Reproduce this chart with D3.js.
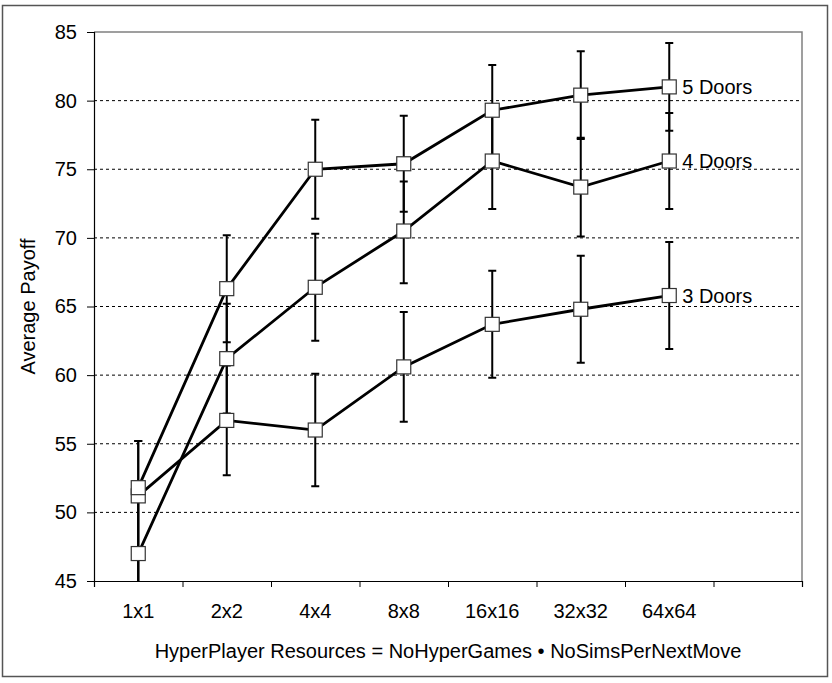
<!DOCTYPE html>
<html>
<head>
<meta charset="utf-8">
<script src="https://cdn.jsdelivr.net/npm/d3@7"></script>
<style>
  body { margin: 0; background: #fff; }
  svg text { font-family: Arial, "Liberation Sans", sans-serif; fill: #000; }
</style>
</head>
<body>
<svg id="chart"></svg>
<script>
// Data
const categories = ['1x1', '2x2', '4x4', '8x8', '16x16', '32x32', '64x64'];
const seriesNames = ['3 Doors', '4 Doors', '5 Doors'];
const doors3 = [51.2, 56.7, 56.0, 60.6, 63.7, 64.8, 65.8];
const doors4 = [47.0, 61.2, 66.4, 70.5, 75.6, 73.7, 75.6];
const doors5 = [51.8, 66.3, 75.0, 75.4, 79.3, 80.4, 81.0];
// error bar lengths above / below each point
const err3Up = [4.0, 4.0, 4.1, 4.0, 3.9, 3.9, 3.9];
const err3Down = [7.0, 4.0, 4.1, 4.0, 3.9, 3.9, 3.9];
const err4Up = [4.0, 4.0, 3.9, 3.6, 3.5, 3.6, 3.5];
const err4Down = [7.0, 4.0, 3.9, 3.8, 3.5, 3.6, 3.5];
const err5Up = [3.4, 3.9, 3.6, 3.5, 3.3, 3.2, 3.2];
const err5Down = [7.0, 3.9, 3.6, 3.5, 3.3, 3.2, 3.2];
const yTicks = [45, 50, 55, 60, 65, 70, 75, 80, 85];

function drawChart() {
    const width = 832;
    const height = 683;
    const margin = { top: 32, right: 30, bottom: 102, left: 94 };
    const nSlots = categories.length + 1; // one empty slot at the right
    const fontSize = '20px';

    const svg = d3.select('#chart')
        .attr('width', width)
        .attr('height', height);

    // outer frame
    svg.append('rect')
        .attr('x', 2.5).attr('y', 5.5)
        .attr('width', 825).attr('height', 671)
        .attr('fill', '#fff')
        .attr('stroke', '#555')
        .attr('stroke-width', 1.5);

    const x = d3.scaleLinear()
        .domain([0, nSlots])
        .range([margin.left, width - margin.right]);

    const y = d3.scaleLinear()
        .domain([45, 85])
        .range([height - margin.bottom, margin.top]);

    // dashed gridlines
    svg.append('g')
        .selectAll('line')
        .data(yTicks.filter(t => t > 45 && t < 85))
        .join('line')
        .attr('x1', x(0)).attr('x2', x(nSlots))
        .attr('y1', d => y(d)).attr('y2', d => y(d))
        .attr('stroke', '#000')
        .attr('stroke-width', 1)
        .attr('stroke-dasharray', '3,3');

    // top and right border (grey)
    svg.append('path')
        .attr('d', `M${x(0)},${y(85)}H${x(nSlots)}V${y(45)}`)
        .attr('fill', 'none')
        .attr('stroke', '#808080')
        .attr('stroke-width', 1.5);

    // y axis
    const yAxis = svg.append('g')
        .attr('transform', `translate(${x(0)},0)`)
        .call(d3.axisLeft(y).tickValues(yTicks).tickSize(7).tickPadding(10));
    yAxis.select('.domain').attr('stroke', '#000').attr('stroke-width', 1.2);
    yAxis.selectAll('.tick line').attr('stroke', '#000');
    yAxis.selectAll('.tick text').style('font-size', fontSize);

    // x axis: tick marks at slot boundaries, labels at slot centres
    const xAxis = svg.append('g')
        .attr('transform', `translate(0,${y(45)})`)
        .call(d3.axisBottom(x).tickValues(d3.range(0, nSlots + 1)).tickSize(6).tickFormat(''));
    xAxis.select('.domain').attr('stroke', '#000').attr('stroke-width', 1.2);
    xAxis.selectAll('.tick line').attr('stroke', '#000');

    svg.append('g')
        .selectAll('text')
        .data(categories)
        .join('text')
        .attr('x', (d, i) => x(i + 0.5))
        .attr('y', y(45) + 37)
        .attr('text-anchor', 'middle')
        .style('font-size', fontSize)
        .text(d => d);

    // axis titles
    svg.append('text')
        .attr('x', (x(0) + x(nSlots)) / 2)
        .attr('y', 658)
        .attr('text-anchor', 'middle')
        .style('font-size', fontSize)
        .text('HyperPlayer Resources = NoHyperGames \u2022 NoSimsPerNextMove');

    svg.append('text')
        .attr('transform', `translate(35,${(y(45) + y(85)) / 2}) rotate(-90)`)
        .attr('text-anchor', 'middle')
        .style('font-size', fontSize)
        .text('Average Payoff');

    const series = [
        { name: seriesNames[0], values: doors3, up: err3Up, down: err3Down },
        { name: seriesNames[1], values: doors4, up: err4Up, down: err4Down },
        { name: seriesNames[2], values: doors5, up: err5Up, down: err5Down }
    ];

    svg.append('clipPath').attr('id', 'plot-clip')
        .append('rect')
        .attr('x', x(0)).attr('y', y(85))
        .attr('width', x(nSlots) - x(0)).attr('height', y(45) - y(85));

    const line = d3.line()
        .x((d, i) => x(i + 0.5))
        .y(d => y(d));

    // lines
    svg.append('g')
        .selectAll('path')
        .data(series)
        .join('path')
        .attr('fill', 'none')
        .attr('stroke', '#000')
        .attr('stroke-width', 2.8)
        .attr('d', s => line(s.values));

    // error bars (clipped to the plot area)
    const capW = 4;
    const errG = svg.append('g').attr('clip-path', 'url(#plot-clip)');
    series.forEach(s => {
        const pts = s.values.map((v, i) => ({ cx: x(i + 0.5), lo: y(v - s.down[i]), hi: y(v + s.up[i]) }));
        errG.append('g')
            .selectAll('path')
            .data(pts)
            .join('path')
            .attr('fill', 'none')
            .attr('stroke', '#000')
            .attr('stroke-width', 2)
            .attr('d', p => `M${p.cx},${p.lo}V${p.hi}M${p.cx - capW},${p.hi}H${p.cx + capW}M${p.cx - capW},${p.lo}H${p.cx + capW}`);
    });

    // square markers
    const size = 14;
    series.forEach(s => {
        svg.append('g')
            .selectAll('rect')
            .data(s.values)
            .join('rect')
            .attr('x', (d, i) => x(i + 0.5) - size / 2)
            .attr('y', d => y(d) - size / 2)
            .attr('width', size)
            .attr('height', size)
            .attr('fill', '#fff')
            .attr('stroke', '#333')
            .attr('stroke-width', 1.2);
    });

    // series labels next to last point
    svg.append('g')
        .selectAll('text')
        .data(series)
        .join('text')
        .attr('x', x(categories.length - 0.5) + 13)
        .attr('y', s => y(s.values[s.values.length - 1]))
        .attr('dy', '0.35em')
        .style('font-size', fontSize)
        .text(s => s.name);
}

document.addEventListener('DOMContentLoaded', drawChart);
</script>
</body>
</html>
